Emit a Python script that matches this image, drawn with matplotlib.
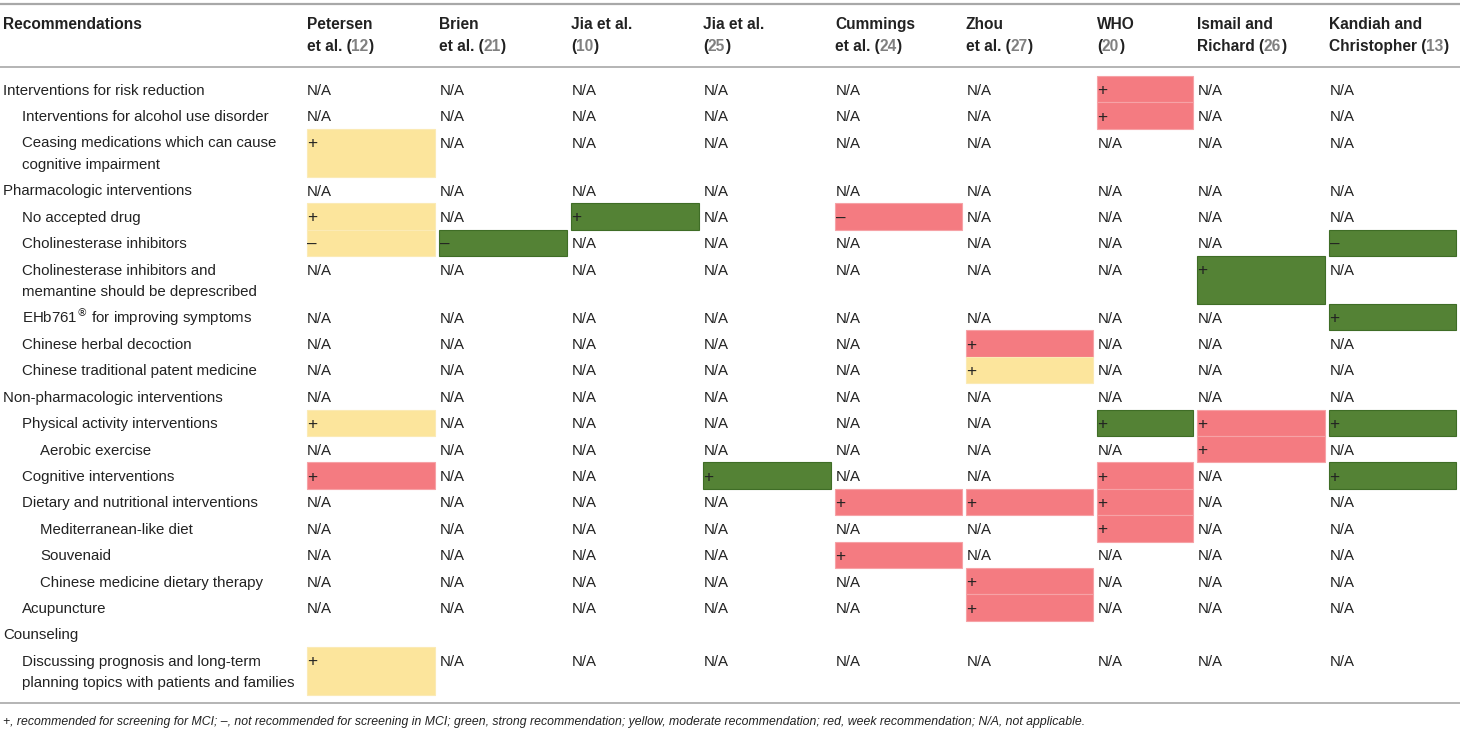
import matplotlib
matplotlib.use("Agg")
from matplotlib import pyplot as plt
from matplotlib.patches import Rectangle

NA = "N/A"

recommendations = [
    "Interventions for risk reduction",
    "Interventions for alcohol use disorder",
    "Ceasing medications which can cause\ncognitive impairment",
    "Pharmacologic interventions",
    "No accepted drug",
    "Cholinesterase inhibitors",
    "Cholinesterase inhibitors and\nmemantine should be deprescribed",
    r"EHb761$^{\circledR}$ for improving symptoms",
    "Chinese herbal decoction",
    "Chinese traditional patent medicine",
    "Non-pharmacologic interventions",
    "Physical activity interventions",
    "Aerobic exercise",
    "Cognitive interventions",
    "Dietary and nutritional interventions",
    "Mediterranean-like diet",
    "Souvenaid",
    "Chinese medicine dietary therapy",
    "Acupuncture",
    "Counseling",
    "Discussing prognosis and long-term\nplanning topics with patients and families",
]
levels = [0, 1, 1, 0, 1, 1, 1, 1, 1, 1, 0, 1, 2, 1, 1, 2, 2, 2, 1, 0, 1]

study_line1 = ["Petersen", "Brien", "Jia et al.", "Jia et al.", "Cummings",
               "Zhou", "WHO", "Ismail and", "Kandiah and"]
study_line2 = ["et al. (", "et al. (", "(", "(", "et al. (",
               "et al. (", "(", "Richard (", "Christopher ("]
study_refs = ["12", "21", "10", "25", "24", "27", "20", "26", "13"]

# sign + grade (g strong, y moderate, r weak); "N/A" not applicable, "" empty
cells = [
    [NA, NA, NA, NA, NA, NA, "+r", NA, NA],
    [NA, NA, NA, NA, NA, NA, "+r", NA, NA],
    ["+y", NA, NA, NA, NA, NA, NA, NA, NA],
    [NA, NA, NA, NA, NA, NA, NA, NA, NA],
    ["+y", NA, "+g", NA, "\u2013r", NA, NA, NA, NA],
    ["\u2013y", "\u2013g", NA, NA, NA, NA, NA, NA, "\u2013g"],
    [NA, NA, NA, NA, NA, NA, NA, "+g", NA],
    [NA, NA, NA, NA, NA, NA, NA, NA, "+g"],
    [NA, NA, NA, NA, NA, "+r", NA, NA, NA],
    [NA, NA, NA, NA, NA, "+y", NA, NA, NA],
    [NA, NA, NA, NA, NA, NA, NA, NA, NA],
    ["+y", NA, NA, NA, NA, NA, "+g", "+r", "+g"],
    [NA, NA, NA, NA, NA, NA, NA, "+r", NA],
    ["+r", NA, NA, "+g", NA, NA, "+r", NA, "+g"],
    [NA, NA, NA, NA, "+r", "+r", "+r", NA, NA],
    [NA, NA, NA, NA, NA, NA, "+r", NA, NA],
    [NA, NA, NA, NA, "+r", NA, NA, NA, NA],
    [NA, NA, NA, NA, NA, "+r", NA, NA, NA],
    [NA, NA, NA, NA, NA, "+r", NA, NA, NA],
    ["", "", "", "", "", "", "", "", ""],
    ["+y", NA, NA, NA, NA, NA, NA, NA, NA],
]

footnote = ("+, recommended for screening for MCI; \u2013, not recommended for screening in MCI; "
            "green, strong recommendation; yellow, moderate recommendation; "
            "red, week recommendation; N/A, not applicable.")

# layout (pixel coordinates)
col_x = [306.7, 439, 571, 703, 835, 966, 1097, 1197, 1329, 1460]
fills = {"g": "#548235", "y": "#fce59c", "r": "#f47b81"}
edges = {"g": "#3f6d26", "y": "#fbeab5", "r": "#f6a2a6"}
txt = "#222222"
ref_gray = "#808080"
rule = "#a8a8a8"
fs = 10.8
fs_head = 11.2

plt.rcParams["font.family"] = ["Liberation Sans", "DejaVu Sans"]

fig = plt.figure(figsize=(14.6, 7.31), dpi=100)
ax = fig.add_axes([0, 0, 1, 1])
ax.set_xlim(0, 1460)
ax.set_ylim(731, 0)
ax.axis("off")
renderer = fig.canvas.get_renderer()


def pieces(x, y, parts, **kw):
    for s, color in parts:
        t = ax.text(x, y, s, color=color, va="baseline", ha="left", **kw)
        x += t.get_window_extent(renderer).width - 0.4


# rules
ax.plot([0, 1460], [4, 4], color=rule, lw=1.6)
ax.plot([0, 1460], [66.5, 66.5], color=rule, lw=1.2)
ax.plot([0, 1460], [702.7, 702.7], color=rule, lw=1.2)

# header
ax.text(3, 29.3, "Recommendations", fontsize=fs_head, fontweight="bold", color=txt, va="baseline")
for c in range(len(study_line1)):
    ax.text(col_x[c], 29.3, study_line1[c], fontsize=fs_head, fontweight="bold", color=txt, va="baseline")
    pieces(col_x[c], 50.9, [(study_line2[c], txt), (study_refs[c], ref_gray), (")", txt)],
           fontsize=fs_head, fontweight="bold")

# body
top = 76.0
for r, label in enumerate(recommendations):
    h = 48.0 if "\n" in label else 26.4
    lx = 3 + 18.5 * levels[r]
    for i, line in enumerate(label.split("\n")):
        ax.text(lx, top + 18.7 + 21.6 * i, line, fontsize=fs, color=txt, va="baseline")
    for c, tok in enumerate(cells[r]):
        if tok == "":
            continue
        if tok == NA:
            ax.text(col_x[c] + 0.5, top + 18.7, NA, fontsize=fs, color=txt, va="baseline")
            continue
        sign, grade = tok[0], tok[1]
        ax.add_patch(Rectangle((col_x[c], top), col_x[c + 1] - 4.5 - col_x[c], h,
                               facecolor=fills[grade], edgecolor=edges[grade], lw=0.8))
        ax.text(col_x[c] + 0.5, top + 19.2, sign, fontsize=fs + 1.5, color=txt, va="baseline")
    top += h

ax.text(3, 724.5, footnote, fontsize=8.85, style="italic", color=txt, va="baseline")

fig.savefig("out.png", dpi=100)
